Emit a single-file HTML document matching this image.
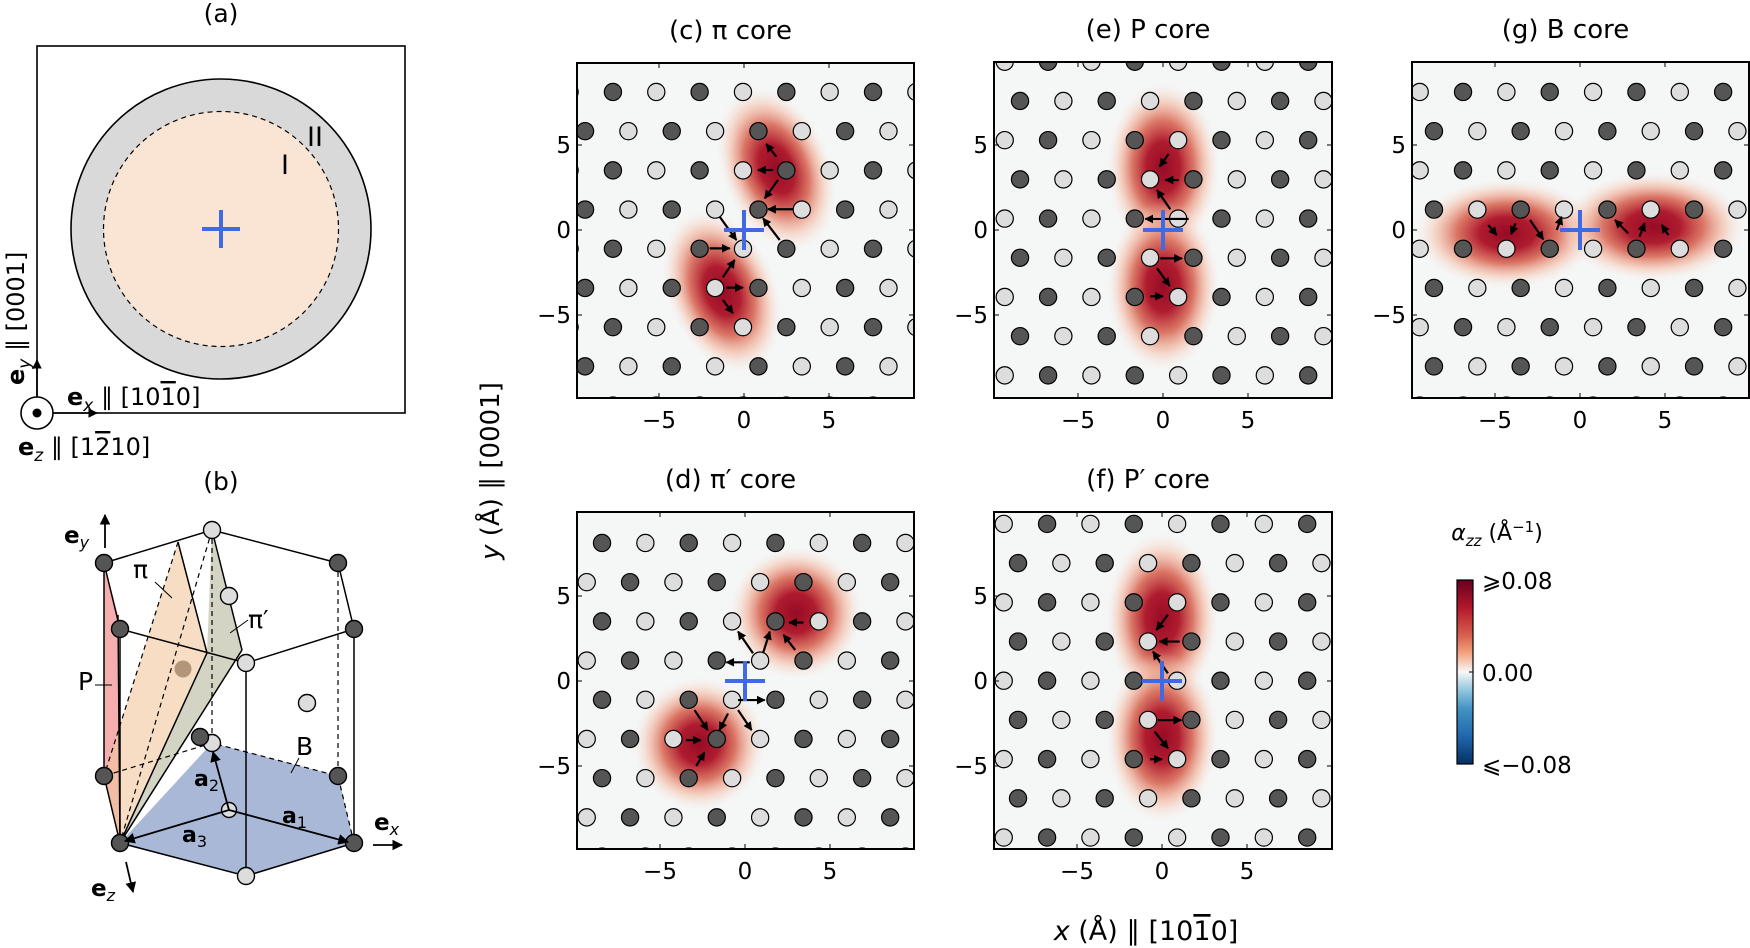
<!DOCTYPE html>
<html><head><meta charset="utf-8"><title>Dislocation cores</title>
<style>
html,body{margin:0;padding:0;background:#fff;}
svg{display:block;font-family:"DejaVu Sans","Liberation Sans",sans-serif;}
</style></head>
<body>
<svg id="fig" width="1750" height="948" viewBox="0 0 1750 948" xmlns="http://www.w3.org/2000/svg">
<defs>
  <radialGradient id="blobGrad">
    <stop offset="0" stop-color="#960b25" stop-opacity="1"/>
    <stop offset="0.3" stop-color="#ad1529" stop-opacity="0.97"/>
    <stop offset="0.55" stop-color="#d6604d" stop-opacity="0.85"/>
    <stop offset="0.78" stop-color="#f4b196" stop-opacity="0.5"/>
    <stop offset="1" stop-color="#f7e8e0" stop-opacity="0"/>
  </radialGradient>
  <linearGradient id="cbGrad" x1="0" y1="0" x2="0" y2="1">
    <stop offset="0" stop-color="#67001f"/>
    <stop offset="0.15" stop-color="#b2182b"/>
    <stop offset="0.3" stop-color="#d6604d"/>
    <stop offset="0.4" stop-color="#f4a582"/>
    <stop offset="0.5" stop-color="#f7f7f7"/>
    <stop offset="0.6" stop-color="#92c5de"/>
    <stop offset="0.7" stop-color="#4393c3"/>
    <stop offset="0.85" stop-color="#2166ac"/>
    <stop offset="1" stop-color="#053061"/>
  </linearGradient>
  <marker id="ah" viewBox="0 0 10 10" refX="9" refY="5" markerWidth="4" markerHeight="4" orient="auto">
    <path d="M0,0 L10,5 L0,10 z" fill="#000"/>
  </marker>
  <marker id="ah2" viewBox="0 0 10 10" refX="9" refY="5" markerWidth="6" markerHeight="6" orient="auto">
    <path d="M0,0 L10,5 L0,10 z" fill="#000"/>
  </marker>
</defs>

<!-- Panel (a) -->
<g>
  <text x="221" y="22" font-size="25" text-anchor="middle">(a)</text>
  <rect x="37" y="46" width="368" height="367" fill="#fff" stroke="#000" stroke-width="1.6"/>
  <circle cx="221" cy="229" r="150" fill="#d9d9d9" stroke="#000" stroke-width="1.6"/>
  <circle cx="221" cy="229" r="117.5" fill="#fae4d3" stroke="#000" stroke-width="1.2" stroke-dasharray="5,4"/>
  <text x="285" y="174" font-size="27" text-anchor="middle">I</text>
  <text x="315" y="146" font-size="27" text-anchor="middle">II</text>
  <g stroke="#4169e1" stroke-width="4">
    <line x1="202" y1="229" x2="240" y2="229"/><line x1="221" y1="210" x2="221" y2="248"/>
  </g>
  <circle cx="37" cy="413" r="16" fill="#fff" stroke="#000" stroke-width="1.6"/>
  <circle cx="37" cy="413" r="4.5" fill="#000"/>
  <line x1="37" y1="397" x2="37" y2="360" stroke="#000" stroke-width="1.6" marker-end="url(#ah2)"/>
  <line x1="53" y1="413" x2="97" y2="413" stroke="#000" stroke-width="1.6" marker-end="url(#ah2)"/>
  <text x="67" y="405" font-size="24"><tspan font-weight="bold">e</tspan><tspan font-style="italic" font-size="17" dy="6">x</tspan><tspan dy="-6"> ∥ [10</tspan><tspan text-decoration="overline">1</tspan><tspan>0]</tspan></text>
  <text x="18" y="455" font-size="24"><tspan font-weight="bold">e</tspan><tspan font-style="italic" font-size="17" dy="6">z</tspan><tspan dy="-6"> ∥ [1</tspan><tspan text-decoration="overline">2</tspan><tspan>10]</tspan></text>
  <text transform="translate(24,385) rotate(-90)" font-size="24"><tspan font-weight="bold">e</tspan><tspan font-style="italic" font-size="17" dy="6">y</tspan><tspan dy="-6"> ∥ [0001]</tspan></text>
</g>

<!-- Panel (b) -->
<g>
  <text x="221" y="490" font-size="25" text-anchor="middle">(b)</text>
  <polygon points="120,843 246,876 354,843 338,776 212,743" fill="#a9b8d6"/>
  <polygon points="104,563 118,615 120,843 104,776" fill="#f29a9a" opacity="0.8"/>
  <polygon points="178,542 207,653 120,843 104,776" fill="#f0c69c" opacity="0.6"/>
  <polygon points="212,530 242,650 120,843 207,653" fill="#c5c5b0" opacity="0.75"/>
  <g stroke="#000" stroke-width="1.5" fill="none">
    <polyline points="104,563 212,530 338,563 354,629 246,663 120,629 104,563"/>
    <line x1="120" y1="629" x2="120" y2="843"/><line x1="246" y1="663" x2="246" y2="876"/><line x1="354" y1="629" x2="354" y2="843"/>
    <line x1="104" y1="563" x2="104" y2="776"/>
    <polyline points="104,776 120,843 246,876 354,843"/>
    <line x1="178" y1="542" x2="207" y2="653"/><line x1="212" y1="530" x2="242" y2="650"/>
    <line x1="207" y1="653" x2="120" y2="843"/><line x1="242" y1="650" x2="120" y2="843"/>
    <line x1="118" y1="615" x2="120" y2="843"/>
  </g>
  <g stroke="#000" stroke-width="1.2" fill="none" stroke-dasharray="5,4">
    <line x1="338" y1="563" x2="338" y2="776"/><line x1="212" y1="530" x2="212" y2="743"/>
    <polyline points="354,843 338,776 212,743 104,776"/>
    <line x1="178" y1="542" x2="104" y2="776"/><line x1="212" y1="530" x2="120" y2="843"/>
  </g>
  <g stroke="#000" stroke-width="1.4">
    <circle cx="104" cy="563" r="8.5" fill="#555"/><circle cx="212" cy="530" r="8.5" fill="#ddd"/>
    <circle cx="338" cy="563" r="8.5" fill="#555"/><circle cx="354" cy="629" r="8.5" fill="#555"/>
    <circle cx="246" cy="663" r="8.5" fill="#ddd"/><circle cx="120" cy="629" r="8.5" fill="#555"/>
    <circle cx="120" cy="843" r="8.5" fill="#555"/><circle cx="246" cy="876" r="8.5" fill="#ddd"/>
    <circle cx="354" cy="843" r="8.5" fill="#555"/><circle cx="338" cy="776" r="8.5" fill="#555"/>
    <circle cx="104" cy="776" r="8.5" fill="#555"/><circle cx="212" cy="743" r="8.5" fill="#ddd"/>
    <circle cx="200" cy="737" r="8.5" fill="#555"/>
    <circle cx="229" cy="596" r="8.5" fill="#ddd"/><circle cx="307" cy="703" r="8.5" fill="#ddd"/>
    <circle cx="229" cy="810" r="7.5" fill="#ddd"/>
    <circle cx="183" cy="669" r="8.5" fill="#b3967a" stroke="none"/>
  </g>
  <g stroke="#000" stroke-width="1.8">
    <line x1="229" y1="810" x2="348" y2="842" marker-end="url(#ah2)"/>
    <line x1="229" y1="810" x2="213" y2="752" marker-end="url(#ah2)"/>
    <line x1="229" y1="810" x2="125" y2="841" marker-end="url(#ah2)"/>
  </g>
  <text x="282" y="823" font-size="22" font-weight="bold">a<tspan font-size="16" font-weight="normal" dy="5">1</tspan></text>
  <text x="194" y="786" font-size="22" font-weight="bold">a<tspan font-size="16" font-weight="normal" dy="5">2</tspan></text>
  <text x="182" y="842" font-size="22" font-weight="bold">a<tspan font-size="16" font-weight="normal" dy="5">3</tspan></text>
  <line x1="373" y1="845" x2="402" y2="845" stroke="#000" stroke-width="1.8" marker-end="url(#ah2)"/>
  <text x="374" y="830" font-size="23" font-weight="bold">e<tspan font-style="italic" font-weight="normal" font-size="16" dy="5">x</tspan></text>
  <line x1="105" y1="548" x2="105" y2="515" stroke="#000" stroke-width="1.8" marker-end="url(#ah2)"/>
  <text x="64" y="543" font-size="23" font-weight="bold">e<tspan font-style="italic" font-weight="normal" font-size="16" dy="5">y</tspan></text>
  <line x1="126" y1="862" x2="133" y2="892" stroke="#000" stroke-width="1.8" marker-end="url(#ah2)"/>
  <text x="91" y="896" font-size="23" font-weight="bold">e<tspan font-style="italic" font-weight="normal" font-size="16" dy="5">z</tspan></text>
  <text x="133" y="578" font-size="25">π</text>
  <line x1="155" y1="582" x2="172" y2="598" stroke="#000" stroke-width="1"/>
  <text x="248" y="628" font-size="25">π′</text>
  <line x1="248" y1="620" x2="230" y2="633" stroke="#000" stroke-width="1"/>
  <text x="78" y="690" font-size="25">P</text>
  <line x1="95" y1="685" x2="112" y2="685" stroke="#000" stroke-width="1"/>
  <text x="296" y="755" font-size="25">B</text>
  <line x1="299" y1="758" x2="291" y2="773" stroke="#000" stroke-width="1"/>
</g>

<!-- shared axis labels -->
<text transform="translate(499,471) rotate(-90)" font-size="26" text-anchor="middle"><tspan font-style="italic">y</tspan> (Å) ∥ [0001]</text>
<text x="1146" y="940" font-size="27" text-anchor="middle"><tspan font-style="italic">x</tspan> (Å) ∥ [10<tspan text-decoration="overline">1</tspan>0]</text>

<!-- colorbar -->
<g>
  <text x="1497" y="540" font-size="22" text-anchor="middle"><tspan font-style="italic">α</tspan><tspan font-style="italic" font-size="15" dy="6">zz</tspan><tspan dy="-6"> (Å</tspan><tspan font-size="15" dy="-8">−1</tspan><tspan dy="8">)</tspan></text>
  <rect x="1457" y="580" width="16" height="184" fill="url(#cbGrad)" stroke="#000" stroke-width="1.2"/>
  <line x1="1469" y1="672" x2="1473" y2="672" stroke="#000" stroke-width="1"/>
  <text x="1482" y="589" font-size="23">⩾0.08</text>
  <text x="1482" y="681" font-size="23">0.00</text>
  <text x="1482" y="773" font-size="23">⩽−0.08</text>
</g>

<g id="panels"></g>
</svg>

<script>
// ---- data (Å units) ----
const panelTitles = ["(c) π core", "(d) π′ core", "(e) P core", "(f) P′ core", "(g) B core"];
const tickValues = [-5, 0, 5];
const tickLabels = ["−5", "0", "5"];
// lattice: first-row y, row spacing, even-row dark x, odd-row dark x
const latticeFirstRowY = [8.12, 8.12, 7.59, 9.24, 8.12];
const latticeRowStep = 2.306;
const latticeColStep = 2.55;
const latticeEvenDarkX = [-7.71, -8.41, -8.41, -6.76, -6.88];
const latticeOddDarkX = [-9.35, -6.76, -6.76, -8.47, -8.59];
// polarization blobs: [cx, cy, rx, ry, rot]
const blobsC = [[1.9, 3.6, 3.2, 5.0, -22], [-1.3, -3.6, 3.2, 5.0, -22]];
const blobsD = [[3.0, 4.0, 3.9, 3.9, 0], [-2.7, -3.7, 3.9, 3.9, 0]];
const blobsE = [[0, 3.7, 3.3, 5.0, 0], [0, -3.3, 3.3, 5.0, 0]];
const blobsF = [[0, 3.7, 3.3, 5.0, 0], [0, -3.3, 3.3, 5.0, 0]];
const blobsG = [[-4.3, -0.2, 5.4, 3.2, 0], [4.3, 0.2, 5.4, 3.2, 0]];
// displacement arrows: [x1, y1, x2, y2]
const arrowsC = [[2.88,1.22,1.41,1.22],[2.0,2.94,1.22,1.86],[1.90,4.31,1.31,5.06],[1.71,3.53,0.82,3.53],[2.10,-0.59,1.12,0.69],[-1.43,0.78,-0.45,-0.59],[-2.02,-1.08,-0.84,-1.08],[-1.24,-2.78,-0.55,-1.76],[-1.04,-3.39,-0.06,-3.39],[-1.24,-4.12,-0.65,-4.9]];
const arrowsD = [[0.28,1.1,-1.1,1.1],[0.47,1.63,-0.41,2.91],[1.06,1.63,1.46,2.91],[2.95,1.83,2.26,2.72],[3.44,3.44,2.6,3.44],[-0.41,-1.12,1.16,-1.12],[-0.41,-1.71,0.39,-2.89],[-1.0,-1.91,-1.5,-2.89],[-2.97,-1.71,-2.19,-2.89],[-3.48,-3.48,-2.6,-3.48],[-2.87,-5.0,-2.38,-4.2]];
const arrowsE = [[1.51,0.65,-1.04,0.65],[0.43,1.22,-0.35,2.35],[0.92,2.94,0.14,2.94],[0.33,4.47,-0.2,3.73],[-0.16,-1.67,1.12,-1.67],[-0.35,-2.25,0.39,-3.29],[-0.75,-3.9,0.0,-3.9]];
const arrowsF = [[1.04,2.32,-0.14,2.32],[0.35,3.9,-0.33,3.0],[0.35,0.45,-0.53,1.73],[-0.24,-2.3,1.14,-2.3],[-0.43,-2.98,0.35,-3.96],[-0.7,-4.6,0.0,-4.6]];
const arrowsG = [[-2.94,0.59,-2.16,-0.55],[-3.8,0.39,-4.05,-0.25],[-5.4,0.3,-4.9,-0.3],[-1.37,0,-1.08,0.78],[2.84,-0.2,2.06,0.59],[3.5,-0.4,3.8,0.4],[5.2,-0.3,4.8,0.3]];

const blobsAll = [blobsC, blobsD, blobsE, blobsF, blobsG];
const arrowsAll = [arrowsC, arrowsD, arrowsE, arrowsF, arrowsG];

// ---- layout ----
const frames = [
  {L:577, T:63, R:914, B:398, x0:744, y0:230},
  {L:577, T:512, R:914, B:849, x0:745, y0:681},
  {L:994, T:62, R:1332, B:398, x0:1163, y0:230},
  {L:994, T:512, R:1332, B:849, x0:1162, y0:681},
  {L:1412, T:62, R:1749, B:398, x0:1580, y0:230}
];
const S = 17; // px per Å
const NS = "http://www.w3.org/2000/svg";
const root = document.getElementById("panels");
const defs = document.querySelector("defs");
function mk(tag, attrs, parent) {
  const e = document.createElementNS(NS, tag);
  for (const k in attrs) e.setAttribute(k, attrs[k]);
  if (parent) parent.appendChild(e);
  return e;
}
const pnames = ["c","d","e","f","g"];
frames.forEach((f, i) => {
  const sx = v => f.x0 + v * S;
  const sy = v => f.y0 - v * S;
  const g = mk("g", {}, root);
  
  
  const cp = mk("clipPath", {id: "clip" + i}, defs);
  mk("rect", {x: f.L, y: f.T, width: f.R - f.L, height: f.B - f.T}, cp);
  const title = mk("text", {x: (f.L + f.R) / 2 - 15, y: f.T - 24, "font-size": 26, "text-anchor": "middle"}, g);
  title.textContent = panelTitles[i];
  
  
  const inner = mk("g", {"clip-path": "url(#clip" + i + ")"}, g);
  const bg = mk("rect", {x: f.L, y: f.T, width: f.R - f.L, height: f.B - f.T, fill: "#f5f6f6"}, inner);
  
  
  blobsAll[i].forEach(b => {
    const el = mk("ellipse", {cx: sx(b[0]), cy: sy(b[1]), rx: b[2] * S, ry: b[3] * S, fill: "url(#blobGrad)",
      transform: "rotate(" + b[4] + " " + sx(b[0]) + " " + sy(b[1]) + ")"}, inner);
    
    
  });
  for (let r = -2; r < 12; r++) {
    const y = latticeFirstRowY[i] - r * latticeRowStep;
    const dx = (Math.abs(r) % 2 === 0) ? latticeEvenDarkX[i] : latticeOddDarkX[i];
    for (let k = -4; k < 12; k++) {
      const x = dx + k * latticeColStep;
      const c = mk("circle", {cx: sx(x), cy: sy(y), r: 8.6, fill: (Math.abs(k) % 2 === 0) ? "#555555" : "#dddddd", stroke: "#000", "stroke-width": 1.2}, inner);
      
      
    }
  }
  arrowsAll[i].forEach(a => {
    const l = mk("line", {x1: sx(a[0]), y1: sy(a[1]), x2: sx(a[2]), y2: sy(a[3]), stroke: "#000", "stroke-width": 2.2, "marker-end": "url(#ah)"}, inner);
    
    
  });
  const cross = mk("g", {stroke: "#4169e1", "stroke-width": 4}, inner);
  
  
  mk("line", {x1: sx(0) - 20, y1: sy(0), x2: sx(0) + 20, y2: sy(0)}, cross);
  mk("line", {x1: sx(0), y1: sy(0) - 20, x2: sx(0), y2: sy(0) + 20}, cross);
  const fr = mk("rect", {x: f.L, y: f.T, width: f.R - f.L, height: f.B - f.T, fill: "none", stroke: "#000", "stroke-width": 2}, g);
  
  
  tickValues.forEach((t, j) => {
    mk("line", {x1: sx(t), y1: f.B, x2: sx(t), y2: f.B - 5, stroke: "#000", "stroke-width": 1}, g);
    mk("line", {x1: sx(t), y1: f.T, x2: sx(t), y2: f.T + 5, stroke: "#000", "stroke-width": 1}, g);
    mk("line", {x1: f.L, y1: sy(t), x2: f.L + 5, y2: sy(t), stroke: "#000", "stroke-width": 1}, g);
    mk("line", {x1: f.R, y1: sy(t), x2: f.R - 5, y2: sy(t), stroke: "#000", "stroke-width": 1}, g);
    const xt = mk("text", {x: sx(t), y: f.B + 30, "font-size": 23, "text-anchor": "middle"}, g);
    xt.textContent = tickLabels[j];
    
    
    const yt = mk("text", {x: f.L - 6, y: sy(t) + 8, "font-size": 23, "text-anchor": "end"}, g);
    yt.textContent = tickLabels[j];
    
    
  });
});
</script>
</body></html>
